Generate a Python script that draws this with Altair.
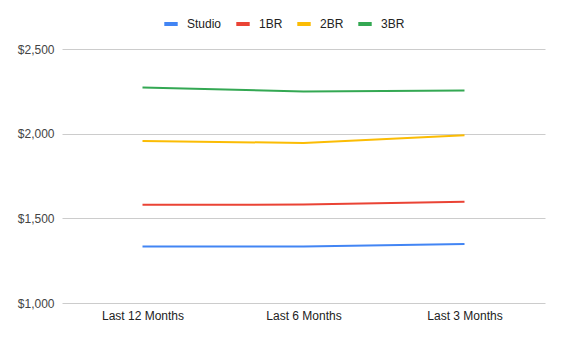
import altair as alt
import pandas as pd

periods = ["Last 12 Months", "Last 6 Months", "Last 3 Months"]
series = ["Studio", "1BR", "2BR", "3BR"]
studio = [1333, 1333, 1349]
br1 = [1580, 1581, 1598]
br2 = [1957, 1945, 1990]
br3 = [2272, 2249, 2255]
colors = ["#4285F4", "#EA4335", "#FBBC04", "#34A853"]

rows = []
for name, vals in zip(series, [studio, br1, br2, br3]):
    for p, v in zip(periods, vals):
        rows.append({"period": p, "type": name, "rent": v})
df = pd.DataFrame(rows)

font = "Liberation Sans"

chart = alt.Chart(df).mark_line(strokeWidth=2).encode(
    x=alt.X("period:N", sort=periods, title=None,
            scale=alt.Scale(type="point", padding=0.5),
            axis=alt.Axis(labelAngle=0, domain=False, ticks=False, grid=False,
                          labelPadding=7, labelFontSize=12, labelFont=font,
                          labelColor="#222222")),
    y=alt.Y("rent:Q", title=None,
            scale=alt.Scale(domain=[1000, 2500], nice=False, zero=False),
            axis=alt.Axis(values=[1000, 1500, 2000, 2500], format="$,.0f",
                          domain=False, ticks=False, labelPadding=8,
                          labelFontSize=12, labelFont=font, labelColor="#444444",
                          gridColor="#CCCCCC", gridWidth=1)),
    color=alt.Color("type:N", sort=series, title=None,
                    scale=alt.Scale(domain=series, range=colors),
                    legend=alt.Legend(orient="none", legendX=100, legendY=-34,
                                      direction="horizontal", symbolType="stroke",
                                      symbolStrokeWidth=4, symbolSize=180,
                                      labelFontSize=12, labelFont=font,
                                      labelColor="#222222", columnPadding=6,
                                      labelOffset=7)),
).properties(
    width=483, height=254,
    autosize=alt.AutoSizeParams(type="none"),
    padding={"left": 62, "top": 49, "right": 17, "bottom": 37},
).configure_view(stroke=None)

chart.save("out.html", embed_options={"renderer": "svg", "actions": False})
